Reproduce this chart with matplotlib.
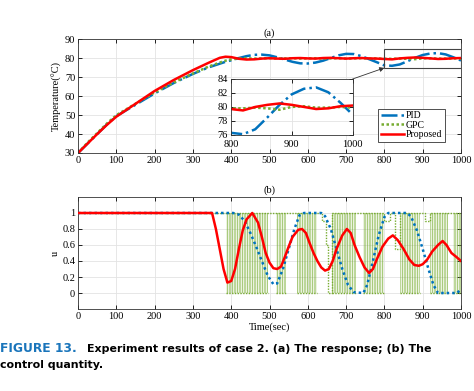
import matplotlib
matplotlib.use("Agg")

import matplotlib.pyplot as plt
from matplotlib.patches import Rectangle

# === data ===

# (a) temperature response
t_temp = [0, 25, 50, 75, 100, 150, 200, 250, 300, 340, 370, 385, 400, 420, 440, 460,
          480, 500, 520, 540, 560, 580, 600, 620, 640, 660, 680, 700, 720, 740, 760,
          780, 800, 820, 840, 860, 880, 900, 920, 940, 960, 980, 1000]
pid_temp = [30, 35, 40, 45, 49.5, 55.5, 61.5, 67, 71.8, 75.2, 77.2, 78.2, 79, 80.2, 81.2, 81.9,
            82, 81.6, 80.6, 79.4, 78.2, 77.4, 77.3, 77.8, 78.8, 80.2, 81.6, 82.4, 82.3, 81.2, 79.6,
            78, 76.3, 76.1, 76.8, 78.5, 80.3, 81.8, 82.6, 82.8, 82.1, 80.6, 78.9]
gpc_temp = [30, 35.5, 40.5, 45.5, 50, 56, 62, 67.3, 72, 75.6, 77.8, 78.8, 79.5, 80, 80.1, 79.9,
            80, 80.1, 79.9, 80, 80.1, 79.9, 80, 80.1, 79.9, 80, 80.1, 79.9, 80, 80.1, 79.9,
            80, 79.8, 79.8, 79.9, 79.8, 79.6, 80, 80.1, 79.9, 79.9, 80, 79.9]
prop_temp = [30, 35, 40, 44.8, 49.2, 56, 62.8, 68.6, 73.8, 77.6, 80.3, 80.9, 80.7, 79.8, 79.4, 79.5,
             79.9, 80.1, 79.9, 79.8, 80.1, 80.2, 80, 79.9, 80.2, 80.3, 80.1, 79.9, 80.1, 80.2, 80,
             79.9, 79.7, 79.5, 80, 80.3, 80.5, 80.3, 80, 79.7, 79.8, 80.1, 80.2]

# (b) control quantity
pid_t = [0, 405, 420, 435, 450, 465, 480, 495, 510, 520, 535, 550, 565, 578, 590, 635, 645,
         660, 675, 690, 705, 720, 745, 755, 770, 785, 800, 810, 860, 870, 885, 900, 915,
         928, 940, 990, 1000]
pid_u = [1, 1, 0.98, 0.9, 0.75, 0.58, 0.4, 0.22, 0.11, 0.12, 0.3, 0.55, 0.8, 0.97, 1, 1, 0.96,
         0.8, 0.55, 0.3, 0.1, 0.01, 0, 0.1, 0.4, 0.72, 0.95, 1, 1, 0.95, 0.78, 0.55, 0.3,
         0.1, 0, 0, 0.05]

prop_t = [0, 350, 360, 370, 380, 390, 400, 410, 420, 430, 440, 455, 470, 480, 490, 500, 510,
          520, 530, 540, 550, 560, 575, 585, 595, 605, 615, 625, 635, 645, 655, 665, 675,
          690, 702, 712, 722, 735, 748, 760, 770, 780, 795, 810, 822, 835, 850, 865, 878,
          890, 900, 912, 925, 940, 952, 962, 975, 988, 1000]
prop_u = [1, 1, 0.8, 0.55, 0.3, 0.13, 0.15, 0.3, 0.55, 0.78, 0.92, 1.0, 0.88, 0.7, 0.5, 0.38, 0.31,
          0.3, 0.33, 0.45, 0.58, 0.7, 0.79, 0.8, 0.75, 0.62, 0.5, 0.4, 0.32, 0.28, 0.3, 0.4, 0.55,
          0.72, 0.8, 0.75, 0.6, 0.45, 0.32, 0.25, 0.3, 0.42, 0.58, 0.68, 0.72, 0.66, 0.55, 0.42, 0.35,
          0.34, 0.36, 0.42, 0.52, 0.6, 0.65, 0.6, 0.5, 0.45, 0.4]

# GPC: steady levels between chattering bands
gpc_t = [0, 386, 495, 518, 542, 572, 625, 638, 647, 653, 663, 725, 745, 800, 815, 828,
         840, 893, 905, 919, 965, 978, 1000]
gpc_u = [1, 1, 1, 1, 1, 1, 1, 0.9, 0.6, 0, 1, 1, 1, 0.9, 1, 0.55,
         1, 1, 0.9, 1, 1, 1, 1]
# GPC: bands where u switches rapidly between 0 and 1
gpc_band_start = [386, 518, 572, 663, 745, 840, 919, 978]
gpc_band_end = [495, 542, 625, 725, 800, 893, 965, 1000]

xticks = [0, 100, 200, 300, 400, 500, 600, 700, 800, 900, 1000]

# === styling ===
BLUE = "#0072BD"
GREEN = "#77AC30"
RED = "#FF0000"
plt.rcParams["font.family"] = ["Liberation Serif", "DejaVu Serif"]
plt.rcParams["font.size"] = 7.5
plt.rcParams["hatch.linewidth"] = 0.45
plt.rcParams["hatch.color"] = GREEN


def style_axes(ax):
    ax.tick_params(direction="in", top=True, right=True, length=3, width=0.6, pad=2,
                   labelsize=7.5)
    ax.grid(True, color="#e3e3e3", linewidth=0.6)
    ax.set_axisbelow(True)
    for s in ax.spines.values():
        s.set_linewidth(0.6)
        s.set_color("#333333")


fig = plt.figure(figsize=(4.74, 3.91), dpi=100)

# --- (a) response ---
ax1 = fig.add_axes([0.1646, 0.6087, 0.808, 0.2903])
ax1.plot(t_temp, pid_temp, color=BLUE, linestyle="-.", linewidth=1.8, label="PID")
ax1.plot(t_temp, gpc_temp, color=GREEN, linestyle=(0, (1, 1)), linewidth=1.8, label="GPC")
ax1.plot(t_temp, prop_temp, color=RED, linestyle="-", linewidth=1.8, label="Proposed")
ax1.set_xlim(0, 1000)
ax1.set_ylim(30, 90)
ax1.set_xticks(xticks)
ax1.set_yticks([30, 40, 50, 60, 70, 80, 90])
ax1.set_ylabel("Temperature(°C)", labelpad=2)
ax1.set_title("(a)", fontsize=7.5, pad=3)
style_axes(ax1)
ax1.add_patch(Rectangle((800, 75), 200, 10, fill=False, edgecolor="#444444", linewidth=0.8,
                        zorder=5))
leg = ax1.legend(loc="lower right", bbox_to_anchor=(0.958, 0.1), fontsize=7,
                 frameon=True, fancybox=False, edgecolor="#333333", framealpha=1,
                 handlelength=2.4, handletextpad=0.2, labelspacing=0.05, borderpad=0.25,
                 borderaxespad=0)
leg.get_frame().set_linewidth(0.6)
leg.set_zorder(6)

# inset
axins = fig.add_axes([0.487, 0.655, 0.257, 0.143])
axins.plot(t_temp, pid_temp, color=BLUE, linestyle="-.", linewidth=1.8)
axins.plot(t_temp, gpc_temp, color=GREEN, linestyle=(0, (1, 1)), linewidth=1.8)
axins.plot(t_temp, prop_temp, color=RED, linestyle="-", linewidth=1.8)
axins.set_xlim(800, 1000)
axins.set_ylim(76, 84)
axins.set_xticks([800, 900, 1000])
axins.set_yticks([76, 78, 80, 82, 84])
style_axes(axins)
axins.tick_params(axis="x", pad=3.5)
axins.set_facecolor("white")

ax1.annotate("", xy=(800, 75), xycoords=ax1.transData,
             xytext=(1000, 84), textcoords=axins.transData,
             arrowprops=dict(arrowstyle="-|>", color="#333333", linewidth=0.6,
                             mutation_scale=7, shrinkA=0, shrinkB=0))

# --- (b) control quantity ---
ax2 = fig.add_axes([0.1646, 0.2097, 0.808, 0.2865])
for s, e in zip(gpc_band_start, gpc_band_end):
    ax2.fill_between([s, e], 0, 1, facecolor="none", edgecolor=GREEN,
                     hatch="||||||||||", linewidth=0, zorder=2)
    ax2.plot([s, e], [0, 0], color=GREEN, linestyle=(0, (1, 1)), linewidth=1.0, zorder=2)
ax2.plot(gpc_t, gpc_u, color=GREEN, linestyle=(0, (1, 1)), linewidth=1.0,
         drawstyle="steps-post", zorder=2)
ax2.plot(pid_t, pid_u, color=BLUE, linestyle=(0, (1, 1.2)), linewidth=1.8, zorder=3)
ax2.plot(prop_t, prop_u, color=RED, linestyle="-", linewidth=1.8, zorder=4)
ax2.set_xlim(0, 1000)
ax2.set_ylim(-0.2, 1.2)
ax2.set_xticks(xticks)
ax2.set_yticks([0, 0.2, 0.4, 0.6, 0.8, 1])
ax2.set_yticklabels(["0", "0.2", "0.4", "0.6", "0.8", "1"])
ax2.set_ylabel("u", labelpad=2)
ax2.set_xlabel("Time(sec)", labelpad=1)
ax2.set_title("(b)", fontsize=7.5, pad=3)
style_axes(ax2)

# caption
cap_font = ["DejaVu Sans"]
fig.text(0.0, 0.0997, "FIGURE 13.", color="#1a75bb", fontsize=8.8, fontweight="bold",
         family=cap_font, ha="left", va="baseline")
fig.text(0.184, 0.0997, "Experiment results of case 2. (a) The response; (b) The",
         color="black", fontsize=7.9, fontweight="bold", family=cap_font,
         ha="left", va="baseline")
fig.text(0.0, 0.0588, "control quantity.", color="black", fontsize=7.9, fontweight="bold",
         family=cap_font, ha="left", va="baseline")

plt.savefig("out.png", dpi=100)
plt.close()
